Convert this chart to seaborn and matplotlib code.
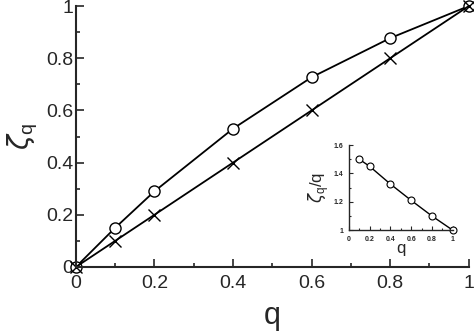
import numpy as np
import pandas as pd
import seaborn as sns
import matplotlib
matplotlib.use("Agg")
import matplotlib.pyplot as plt
from matplotlib.ticker import MultipleLocator, FixedLocator

q = [0.0, 0.1, 0.2, 0.4, 0.6, 0.8, 1.0]
zeta_q = [0.0, 0.15, 0.29, 0.53, 0.727, 0.877, 1.0]
linear_q = [0.0, 0.1, 0.2, 0.4, 0.6, 0.8, 1.0]
q_inset = [0.1, 0.2, 0.4, 0.6, 0.8, 1.0]
ratio_inset = [1.50, 1.45, 1.325, 1.21, 1.10, 1.0]

sns.set_style("ticks")
plt.rcParams['font.family'] = ['Liberation Sans', 'DejaVu Sans']

fig = plt.figure(figsize=(4.74, 3.35), dpi=100)
ax = fig.add_axes([0.160, 0.203, 0.829, 0.779])

df = pd.DataFrame({"q": q, "zeta": zeta_q, "lin": linear_q})
sns.lineplot(data=df, x="q", y="zeta", ax=ax, color="black", lw=1.3,
             marker="o", markersize=8, markerfacecolor="white",
             markeredgecolor="black", markeredgewidth=1.0, clip_on=False)
sns.lineplot(data=df, x="q", y="lin", ax=ax, color="black", lw=1.3,
             marker="x", markersize=8, markeredgecolor="black",
             markeredgewidth=1.0, clip_on=False)

ax.set_xlim(0, 1)
ax.set_ylim(0, 1)
ax.xaxis.set_major_locator(FixedLocator([0, 0.2, 0.4, 0.6, 0.8, 1.0]))
ax.xaxis.set_minor_locator(MultipleLocator(0.1))
ax.yaxis.set_major_locator(FixedLocator([0, 0.2, 0.4, 0.6, 0.8, 1.0]))
ax.yaxis.set_minor_locator(MultipleLocator(0.1))
ax.set_xticklabels(["0", "0.2", "0.4", "0.6", "0.8", "1"])
ax.set_yticklabels(["0", "0.2", "0.4", "0.6", "0.8", "1"])
ax.tick_params(which="both", direction="in", width=1.2, labelsize=14)
ax.tick_params(axis="x", pad=6)
ax.tick_params(axis="y", pad=2)
ax.tick_params(which="major", length=6)
ax.tick_params(which="minor", length=3)
for s in ["left", "bottom"]:
    ax.spines[s].set_linewidth(1.5)
sns.despine(ax=ax)
ax.set_xlabel("q", fontsize=22, labelpad=6)
ax.set_ylabel(r"$\zeta_\mathregular{q}$", fontsize=20, labelpad=4)

axi = fig.add_axes([0.736, 0.313, 0.219, 0.254])
di = pd.DataFrame({"q": q_inset, "r": ratio_inset})
sns.lineplot(data=di, x="q", y="r", ax=axi, color="black", lw=1.0,
             marker="o", markersize=5, markerfacecolor="white",
             markeredgecolor="black", markeredgewidth=0.8, clip_on=False)
axi.set_xlim(0, 1)
axi.set_ylim(1, 1.6)
axi.xaxis.set_major_locator(FixedLocator([0, 0.2, 0.4, 0.6, 0.8, 1.0]))
axi.xaxis.set_minor_locator(MultipleLocator(0.1))
axi.yaxis.set_major_locator(FixedLocator([1.0, 1.2, 1.4, 1.6]))
axi.yaxis.set_minor_locator(MultipleLocator(0.1))
axi.set_xticklabels(["0", "0.2", "0.4", "0.6", "0.8", "1"], fontweight="bold")
axi.set_yticklabels(["1", "1.2", "1.4", "1.6"], fontweight="bold")
axi.tick_params(which="both", direction="in", width=0.8, labelsize=5, pad=4)
axi.tick_params(which="major", length=3)
axi.tick_params(which="minor", length=1.5)
for s in ["left", "bottom"]:
    axi.spines[s].set_linewidth(1.0)
sns.despine(ax=axi)
axi.set_xlabel("q", fontsize=12, labelpad=-1)
axi.set_ylabel(r"$\zeta_\mathregular{q}$/q", fontsize=12, labelpad=2)

fig.savefig("out.png", dpi=100)
